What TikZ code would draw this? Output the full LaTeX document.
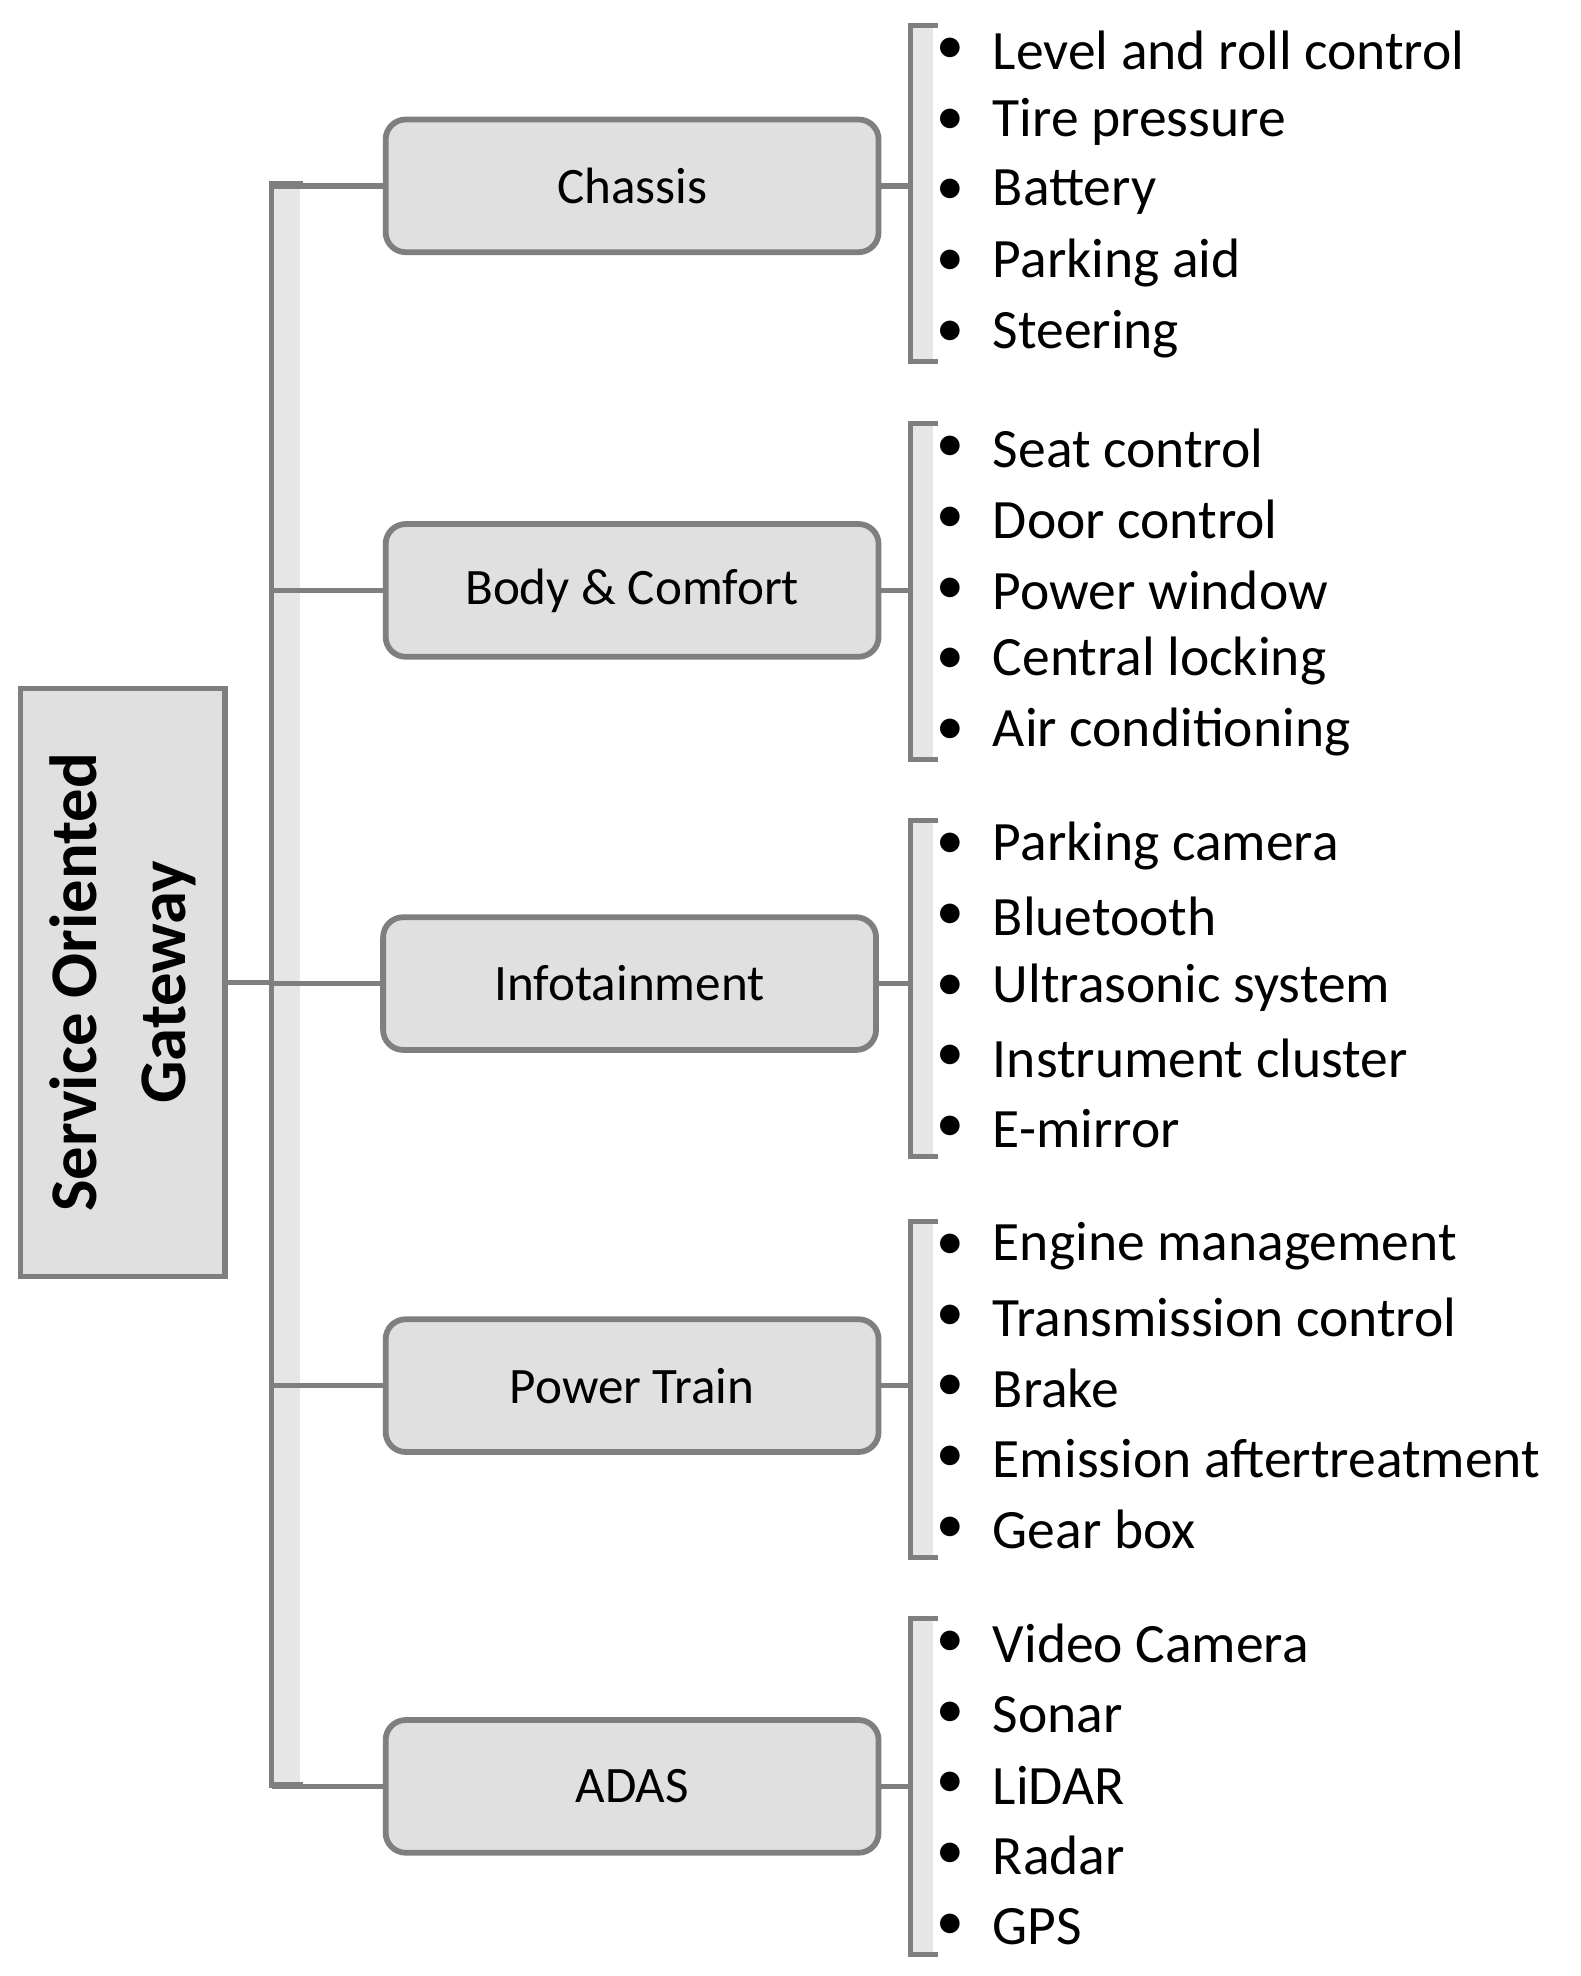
\documentclass[tikz,border=0pt]{standalone}
\usepackage{fontspec}
\setmainfont{Carlito}
\definecolor{edge}{HTML}{7F7F7F}
\definecolor{boxfill}{HTML}{E0E0E0}
\definecolor{strip}{HTML}{E6E6E6}
\begin{document}
\begin{tikzpicture}[x=0.02cm,y=-0.02cm,
  cat/.style={draw=edge,line width=2.6pt,fill=boxfill,rounded corners=9pt,
    minimum width=7.8cm,minimum height=2.1cm,font=\fontsize{23}{27}\selectfont},
  item/.style={anchor=west,inner sep=0pt,font=\fontsize{25}{30}\selectfont},
  dot/.style={anchor=center,inner sep=0pt,font=\fontsize{25}{30}\selectfont},
  wire/.style={draw=edge,line width=2.4pt}]
\useasboundingbox (0,0) rectangle (1250,1563);
% gateway
\node[draw=edge,line width=2.4pt,fill=boxfill,minimum width=3.24cm,minimum height=9.3cm,inner sep=0pt] (gw) at (97,777) {};
\node[rotate=90,align=center,font=\bfseries\fontsize{30}{40}\selectfont] (gwt) at (gw.center) {Service Oriented\\Gateway};
% trunk
\fill[strip] (215,145) rectangle (237,1412);
\draw[wire] (240,145) -- (215,145) -- (215,1412) -- (240,1412);
\coordinate (tr) at (215,777);
\draw[wire] (gw.east) -- (tr);
% categories
\foreach \n/\y/\t/\x in {ch/147/Chassis/500, bc/467/Body \& Comfort/500, inf/778/Infotainment/498, pt/1096/Power Train/500, ad/1413/ADAS/500}{
  \node[cat] (\n) at (\x,\y) {\t};
  \draw[wire] (215,\y) -- (\n.west);
}
% item lists
\foreach \n/\top/\lst in {ch/20/{Level and roll control,Tire pressure,Battery,Parking aid,Steering},
  bc/335/{Seat control,Door control,Power window,Central locking,Air conditioning},
  inf/649/{Parking camera,Bluetooth,Ultrasonic system,Instrument cluster,E-mirror},
  pt/966/{Engine management,Transmission control,Brake,Emission aftertreatment,Gear box},
  ad/1280/{Video Camera,Sonar,LiDAR,Radar,GPS}}{
  \pgfmathsetmacro{\bot}{\top+266}
  \fill[strip] (720,\top) rectangle (738,\bot);
  \draw[wire] (742,\top) -- (720,\top) -- (720,\bot) -- (742,\bot);
  \draw[wire] (\n.east) -- (\n.east -| 720,0);
  \foreach \s [count=\i] in \lst {
    \pgfmathsetmacro{\yy}{\top+20+(\i-1)*56}
    \node[dot] (\n d\i) at (752,\yy) {\textbullet};
    \node[item] (\n i\i) at (785,\yy) {\s};
  }
}
\end{tikzpicture}
\end{document}
